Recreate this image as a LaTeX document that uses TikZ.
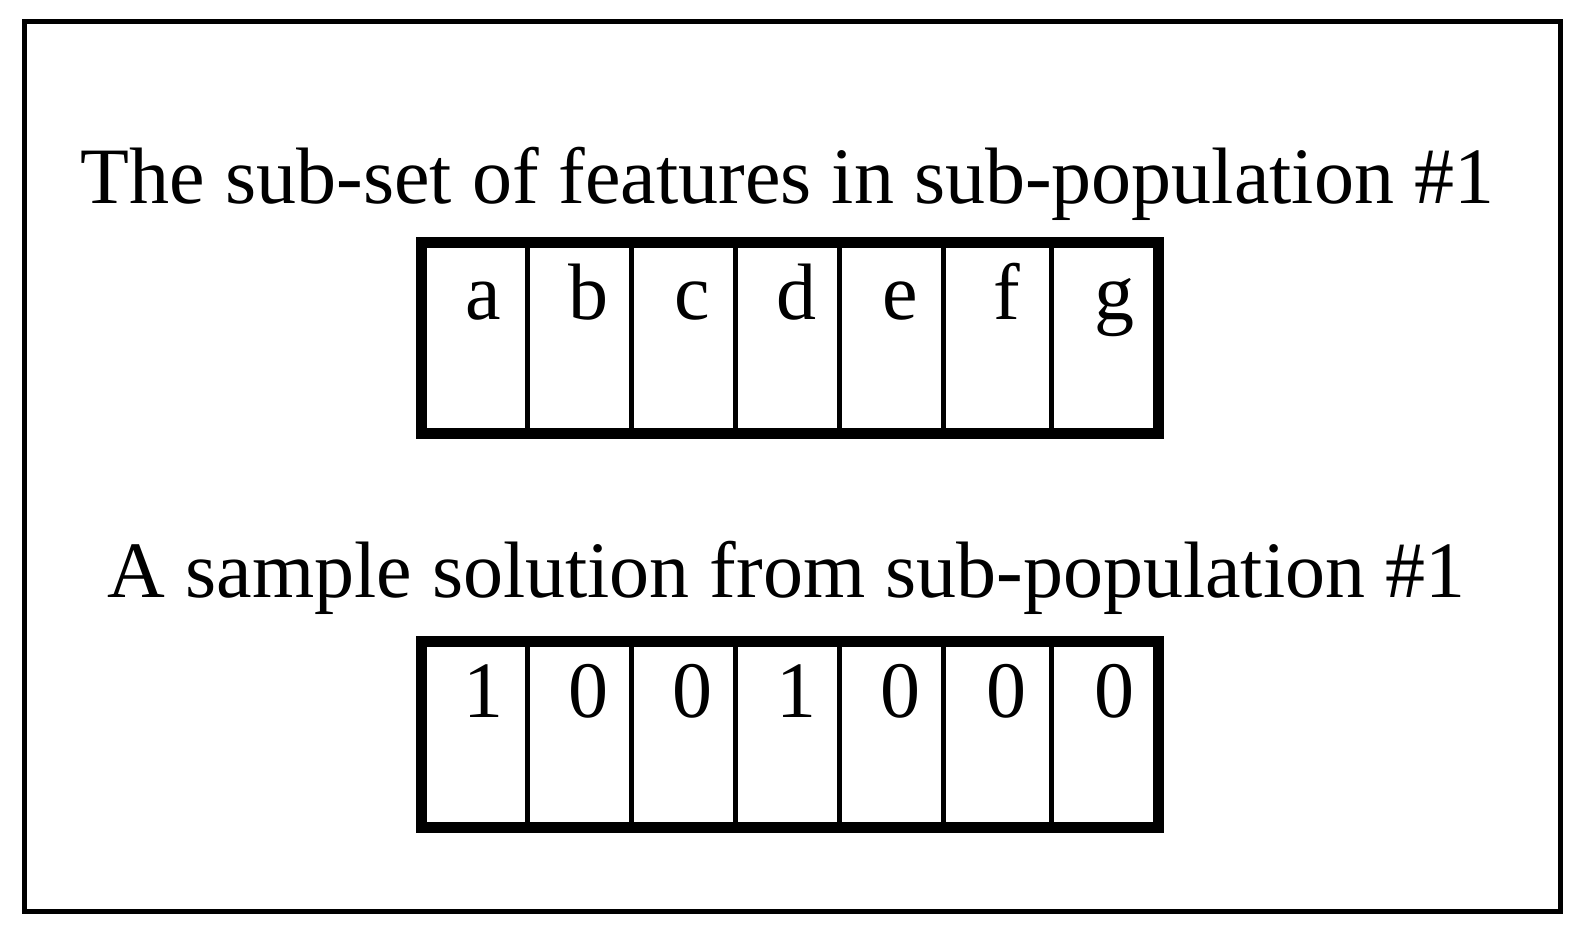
\documentclass[tikz,border=0pt]{standalone}
\usepackage{fontspec}
\setmainfont{Liberation Serif}
\tikzset{
	celltext/.style={anchor=base,inner sep=0pt,font=\fontsize{40}{44}\selectfont},
	outerbox/.style={line width=5.5pt},
	divider/.style={line width=2.5pt}
}

\begin{document}
\begin{tikzpicture}[x=0.5pt,y=-0.5pt]
	\useasboundingbox (0,0) rectangle (1593,947);
	%FRAME
	\draw[line width=2.5pt] (24.5,21.5) rectangle (1560,911.5);
	%TITLES
	\node[celltext] (title1) at (787.5,203) {The sub-set of features in sub-population \#1};
	\node[celltext] (title2) at (786.5,597) {A sample solution from sub-population \#1};
	%FEATURES
	\foreach \xa/\xb/\t in {421/527.5/a,527.5/631.5/b,631.5/735.5/c,735.5/839.5/d,839.5/943.5/e,943.5/1051.5/f,1051.5/1158.5/g}{
		\draw[divider] (\xb,242.5) -- (\xb,433.5);
		\node[celltext] (feat-\t) at ({(\xa+\xb)/2+9},319) {\t};
	}
	\draw[outerbox] (421,242.5) rectangle (1158.5,433.5);
	%SOLUTION
	\foreach \xa/\xb/\t [count=\i] in {421/527.5/1,527.5/631.5/0,631.5/735.5/0,735.5/839.5/1,839.5/943.5/0,943.5/1051.5/0,1051.5/1158.5/0}{
		\draw[divider] (\xb,641) -- (\xb,827);
		\node[celltext] (bit-\i) at ({(\xa+\xb)/2+9},717) {\t};
	}
	\draw[outerbox] (421,641) rectangle (1158.5,827);
\end{tikzpicture}
\end{document}
